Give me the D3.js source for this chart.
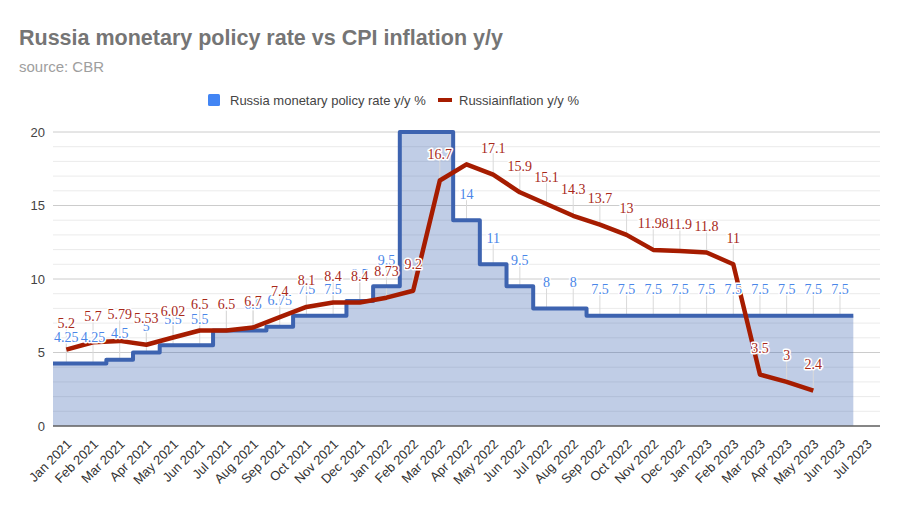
<!DOCTYPE html>
<html>
<head>
<meta charset="utf-8">
<script src="https://cdn.jsdelivr.net/npm/d3@7"></script>
<style>
	body { margin: 0; background: #fff; }
	svg { display: block; font-family: Arial, "Liberation Sans", sans-serif; }
</style>
</head>
<body>
<svg width="900" height="510"></svg>
<script>
	// month categories on the x axis
	var months = ["Jan 2021", "Feb 2021", "Mar 2021", "Apr 2021", "May 2021", "Jun 2021",
		"Jul 2021", "Aug 2021", "Sep 2021", "Oct 2021", "Nov 2021", "Dec 2021",
		"Jan 2022", "Feb 2022", "Mar 2022", "Apr 2022", "May 2022", "Jun 2022",
		"Jul 2022", "Aug 2022", "Sep 2022", "Oct 2022", "Nov 2022", "Dec 2022",
		"Jan 2023", "Feb 2023", "Mar 2023", "Apr 2023", "May 2023", "Jun 2023", "Jul 2023"]

	// key rate, Jan 2021 .. Jun 2023
	var policyRate = [4.25, 4.25, 4.5, 5, 5.5, 5.5, 6.5, 6.5, 6.75, 7.5, 7.5, 8.5,
		9.5, 20, 20, 14, 11, 9.5, 8, 8, 7.5, 7.5, 7.5, 7.5,
		7.5, 7.5, 7.5, 7.5, 7.5, 7.5]

	// CPI y/y, Jan 2021 .. May 2023
	var inflation = [5.2, 5.7, 5.79, 5.53, 6.02, 6.5, 6.5, 6.7, 7.4, 8.1, 8.4, 8.4,
		8.73, 9.2, 16.7, 17.8, 17.1, 15.9, 15.1, 14.3, 13.7, 13, 11.98, 11.9,
		11.8, 11, 3.5, 3, 2.4]

	var yTicks = [0, 5, 10, 15, 20]

	var svg = d3.select("svg");
	var padding = {t: 132, r: 20, b: 84, l: 53};
	var svgWidth = +svg.attr("width");
	var svgHeight = +svg.attr("height");

	var x = d3.scaleBand()
		.domain(months)
		.range([padding.l, svgWidth - padding.r])
		.padding(0);
	var bw = x.bandwidth();

	var y = d3.scaleLinear()
		.domain([0, 20])
		.range([svgHeight - padding.b, padding.t]);

	// title + source
	svg.append("text")
		.attr("x", 19)
		.attr("y", 45)
		.style("font-size", "21.5px")
		.style("font-weight", "bold")
		.style("fill", "#757575")
		.text("Russia monetary policy rate vs CPI inflation y/y");

	svg.append("text")
		.attr("x", 19)
		.attr("y", 72)
		.style("font-size", "15px")
		.style("fill", "#9e9e9e")
		.text("source: CBR");

	// legend
	var legend = svg.append("g").style("font-size", "13px").style("fill", "#444");
	legend.append("rect")
		.attr("x", 208).attr("y", 94)
		.attr("width", 12).attr("height", 12)
		.attr("rx", 1.5)
		.style("fill", "#4285f4");
	legend.append("text").attr("x", 230).attr("y", 104.5)
		.text("Russia monetary policy rate y/y %");
	legend.append("line")
		.attr("x1", 438).attr("x2", 452)
		.attr("y1", 100).attr("y2", 100)
		.style("stroke", "#a61c00")
		.style("stroke-width", 4);
	legend.append("text").attr("x", 459).attr("y", 104.5)
		.text("Russiainflation y/y %");

	// horizontal gridlines, minor each 1, major each 5
	var grid = svg.append("g");
	grid.selectAll("line")
		.data(d3.range(0, 21))
		.enter()
		.append("line")
		.attr("x1", padding.l)
		.attr("x2", svgWidth - padding.r)
		.attr("y1", function(d) { return y(d); })
		.attr("y2", function(d) { return y(d); })
		.style("stroke", function(d) { return d % 5 == 0 ? "#cccccc" : "#ebebeb"; })
		.style("stroke-width", 1);

	// y tick labels
	svg.append("g")
		.selectAll("text")
		.data(yTicks)
		.enter()
		.append("text")
		.attr("x", 45)
		.attr("y", function(d) { return y(d); })
		.attr("dy", "0.35em")
		.attr("text-anchor", "end")
		.style("font-size", "13px")
		.style("fill", "#444")
		.text(function(d) { return d; });

	// stepped area for the policy rate
	var stepPts = policyRate.map(function(v, i) { return [x(months[i]), v]; });
	stepPts.push([x(months[policyRate.length - 1]) + bw, policyRate[policyRate.length - 1]]);

	var area = d3.area()
		.x(function(d) { return d[0]; })
		.y0(y(0))
		.y1(function(d) { return y(d[1]); })
		.curve(d3.curveStepAfter);

	var stepLine = d3.line()
		.x(function(d) { return d[0]; })
		.y(function(d) { return y(d[1]); })
		.curve(d3.curveStepAfter);

	svg.append("path")
		.datum(stepPts)
		.attr("d", area)
		.style("fill", "#3c64b1")
		.style("fill-opacity", 0.32);

	// annotation stems + labels (labels that would poke above the plot are dropped)
	var labelOff = 26.5;
	var blueLab = policyRate.map(function(v, i) { return {v: v, i: i}; })
		.filter(function(d) { return y(d.v) - labelOff - 7 >= padding.t; });
	var redLab = inflation.map(function(v, i) { return {v: v, i: i}; })
		.filter(function(d) { return y(d.v) - labelOff - 7 >= padding.t; });

	function cx(i) { return x(months[i]) + bw / 2; }

	var stems = svg.append("g").style("stroke", "#d9d9d9").style("stroke-width", 1);
	stems.selectAll(".bstem")
		.data(blueLab).enter().append("line")
		.attr("x1", function(d) { return cx(d.i); })
		.attr("x2", function(d) { return cx(d.i); })
		.attr("y1", function(d) { return y(d.v); })
		.attr("y2", function(d) { return y(d.v) - labelOff + 5; });
	stems.selectAll(".rstem")
		.data(redLab).enter().append("line")
		.attr("x1", function(d) { return cx(d.i); })
		.attr("x2", function(d) { return cx(d.i); })
		.attr("y1", function(d) { return y(d.v); })
		.attr("y2", function(d) { return y(d.v) - labelOff + 5; });

	svg.append("path")
		.datum(stepPts)
		.attr("d", stepLine)
		.style("fill", "none")
		.style("stroke", "#3d63b0")
		.style("stroke-width", 4)
		.style("stroke-linejoin", "round");

	// inflation line
	var redLine = d3.line()
		.x(function(d, i) { return cx(i); })
		.y(function(d) { return y(d); });

	svg.append("path")
		.datum(inflation)
		.attr("d", redLine)
		.style("fill", "none")
		.style("stroke", "#a61c00")
		.style("stroke-width", 4.5)
		.style("stroke-linejoin", "round");

	// x axis baseline
	svg.append("line")
		.attr("x1", padding.l)
		.attr("x2", svgWidth - padding.r)
		.attr("y1", y(0))
		.attr("y2", y(0))
		.style("stroke", "#666")
		.style("stroke-width", 1.5);

	// x labels rotated
	svg.append("g")
		.selectAll("text")
		.data(months)
		.enter()
		.append("text")
		.attr("transform", function(d) {
			return "translate(" + (x(d) + bw / 2 + 6) + "," + 445 + ")rotate(-45)";
		})
		.attr("text-anchor", "end")
		.style("font-size", "13px")
		.style("fill", "#333")
		.text(function(d) { return d; });

	function drawLabels(data, color) {
		svg.append("g")
			.selectAll("text")
			.data(data)
			.enter()
			.append("text")
			.attr("x", function(d) { return cx(d.i); })
			.attr("y", function(d) { return y(d.v) - labelOff; })
			.attr("dy", "0.35em")
			.attr("text-anchor", "middle")
			.style("font-family", "'Liberation Serif', 'Times New Roman', serif")
			.style("font-size", "14px")
			.style("fill", color)
			.style("stroke", "#fff")
			.style("stroke-width", 3)
			.style("stroke-linejoin", "round")
			.style("paint-order", "stroke")
			.text(function(d) { return d.v; });
	}
	drawLabels(blueLab, "#4a86e8");
	drawLabels(redLab, "#a8291a");
</script>
</body>
</html>
